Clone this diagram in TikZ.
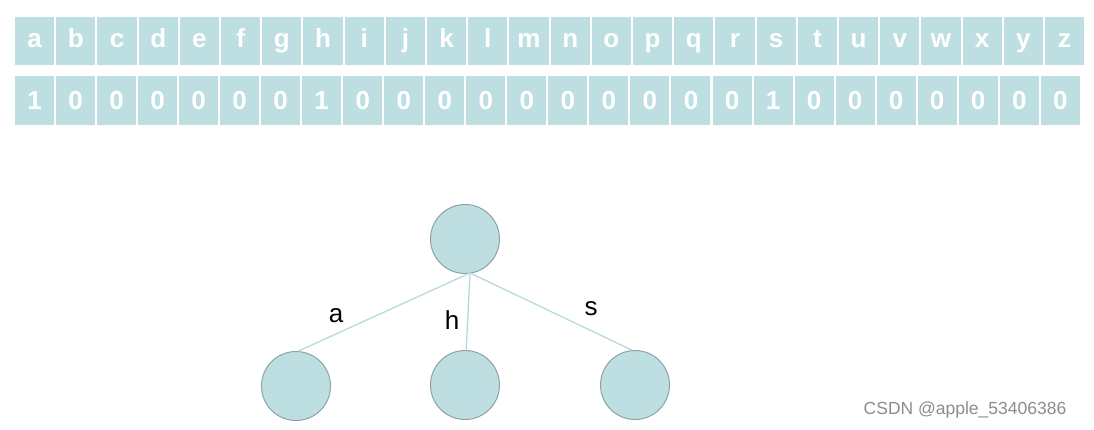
\documentclass[tikz,border=0pt]{standalone}
\usepackage{fontspec}
\setmainfont{Liberation Sans}
\begin{document}
\definecolor{cell}{HTML}{BEDFE2}
\definecolor{ring}{HTML}{8CA3A5}
\definecolor{edge}{HTML}{B5DADE}
\begin{tikzpicture}[x=1pt,y=-1pt,
  cellA/.style={fill=cell,draw=none,minimum width=39.2pt,minimum height=48pt,inner sep=0pt,text=white,text height=18pt,text depth=5pt,font=\fontsize{26}{26}\selectfont\bfseries},
  cellB/.style={fill=cell,draw=none,minimum width=39pt,minimum height=49pt,inner sep=0pt,text=white,text height=19pt,text depth=0pt,font=\fontsize{26}{26}\selectfont\bfseries},
  tn/.style={circle,fill=cell,draw=ring,line width=1pt,minimum size=69pt,inner sep=0pt},
  lab/.style={font=\fontsize{26}{26}\selectfont}]
\useasboundingbox (0,0) rectangle (1094,430);
\foreach \l [count=\i from 0] in {a,b,c,d,e,f,g,h,i,j,k,l,m,n,o,p,q,r,s,t,u,v,w,x,y,z}
  \node[cellA] (L\i) at ({14+20.6+41.2*\i},41) {\l};
\foreach \d [count=\i from 0] in {1,0,0,0,0,0,0,1,0,0,0,0,0,0,0,0,0,0,1,0,0,0,0,0,0,0}
  \node[cellB] (D\i) at ({14+20.5+41.03*\i},100.5) {\d};
\node[tn] (r) at (465,239) {};
\node[tn] (c1) at (296,386) {};
\node[tn] (c2) at (465,385) {};
\node[tn] (c3) at (635,385) {};
\coordinate (rb) at (470,273);
\draw[edge,line width=1.3pt] (rb) -- (c1.86);
\draw[edge,line width=1.3pt] (rb) -- (c2.88);
\draw[edge,line width=1.3pt] (rb) -- (c3.95);
\node[lab] (la) at (336,316) {a};
\node[lab] (lh) at (452,320) {h};
\node[lab] (ls) at (591,309) {s};
\node[text=gray!90,font=\fontsize{17.5}{17.5}\selectfont] (wm) at (965,410) {CSDN @apple\_53406386};
\end{tikzpicture}
\end{document}
